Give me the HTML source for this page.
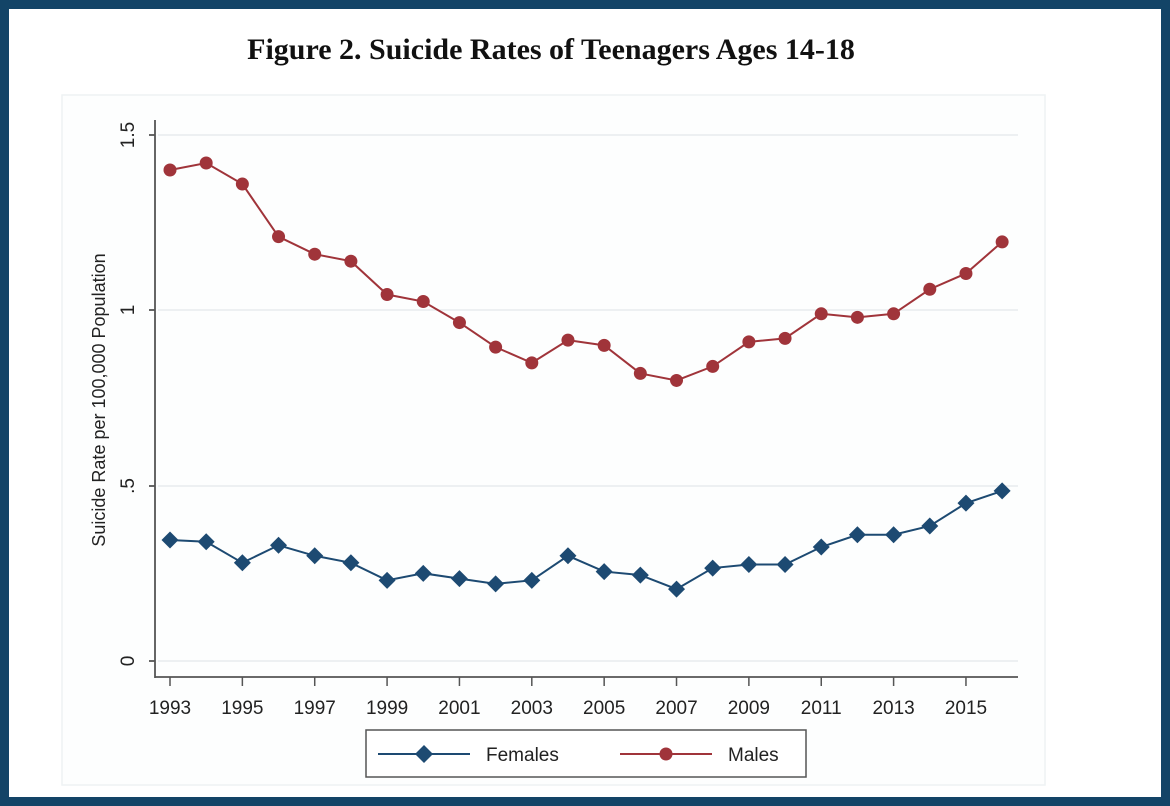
<!DOCTYPE html>
<html><head><style>
html,body{margin:0;padding:0;width:1170px;height:806px;overflow:hidden;background:#134467}
</style></head><body>
<svg width="1170" height="806" xmlns="http://www.w3.org/2000/svg" style="position:absolute;left:0;top:0">
<rect x="9" y="9" width="1152" height="788" fill="#fff"/>
<rect x="62" y="95" width="983" height="690" fill="#fdfefe" stroke="#eef2f4" stroke-width="1.5"/>
<text x="551" y="59" text-anchor="middle" font-family="Liberation Serif, serif" font-weight="bold" font-size="30" fill="#111">Figure 2. Suicide Rates of Teenagers Ages 14-18</text>
<g stroke="#e8ecee" stroke-width="1.5">
<line x1="158" y1="135" x2="1018" y2="135"/><line x1="158" y1="310" x2="1018" y2="310"/>
<line x1="158" y1="486" x2="1018" y2="486"/><line x1="158" y1="661" x2="1018" y2="661"/>
</g>
<g stroke="#555" stroke-width="1.8" fill="none">
<line x1="155" y1="120" x2="155" y2="678"/><line x1="155" y1="677" x2="1018" y2="677"/>
<line x1="149" y1="135" x2="155" y2="135"/><line x1="149" y1="310" x2="155" y2="310"/><line x1="149" y1="486" x2="155" y2="486"/><line x1="149" y1="661" x2="155" y2="661"/>
</g>
<g stroke="#555" stroke-width="1.5" id="xt"></g>
<g font-family="Liberation Sans, sans-serif" font-size="19" fill="#222">
<text transform="translate(134,135) rotate(-90)" text-anchor="middle">1.5</text>
<text transform="translate(134,310) rotate(-90)" text-anchor="middle">1</text>
<text transform="translate(134,486) rotate(-90)" text-anchor="middle">.5</text>
<text transform="translate(134,661) rotate(-90)" text-anchor="middle">0</text>
<text transform="translate(105,400) rotate(-90)" text-anchor="middle" font-size="18">Suicide Rate per 100,000 Population</text>
</g>
<g font-family="Liberation Sans, sans-serif" font-size="19" fill="#222" text-anchor="middle" id="xl"></g>
<polyline id="m" fill="none" stroke="#a0343a" stroke-width="2"/>
<polyline id="f" fill="none" stroke="#1d4a72" stroke-width="2"/>
<g id="mm" fill="#a0343a"></g><g id="ff" fill="#1d4a72"></g>
<rect x="366" y="730" width="440" height="47" fill="#fff" stroke="#555" stroke-width="1.5"/>
<line x1="378" y1="754" x2="470" y2="754" stroke="#1d4a72" stroke-width="2"/>
<polygon points="424,745 433,754 424,763 415,754" fill="#1d4a72"/>
<text x="486" y="761" font-family="Liberation Sans, sans-serif" font-size="19" fill="#222">Females</text>
<line x1="620" y1="754" x2="712" y2="754" stroke="#a0343a" stroke-width="2"/>
<circle cx="666" cy="754" r="6.5" fill="#a0343a"/>
<text x="728" y="761" font-family="Liberation Sans, sans-serif" font-size="19" fill="#222">Males</text>
</svg>
<script>
var M=[1.40,1.42,1.36,1.21,1.16,1.14,1.045,1.025,.965,.895,.85,.915,.90,.82,.80,.84,.91,.92,.99,.98,.99,1.06,1.105,1.195];
var F=[.345,.34,.28,.33,.30,.28,.23,.25,.235,.22,.23,.30,.255,.245,.205,.265,.275,.275,.325,.36,.36,.385,.45,.485];
var ns="http://www.w3.org/2000/svg";
function X(i){return 170+i*36.18}function Y(v){return 661-v*350.7}
var pm=[],pf=[];
for(var i=0;i<24;i++){pm.push(X(i)+","+Y(M[i]));pf.push(X(i)+","+Y(F[i]));
var c=document.createElementNS(ns,"circle");c.setAttribute("cx",X(i));c.setAttribute("cy",Y(M[i]));c.setAttribute("r",6.5);document.getElementById("mm").appendChild(c);
var p=document.createElementNS(ns,"polygon");var x=X(i),y=Y(F[i]);p.setAttribute("points",x+","+(y-8.5)+" "+(x+8.5)+","+y+" "+x+","+(y+8.5)+" "+(x-8.5)+","+y);document.getElementById("ff").appendChild(p);}
document.getElementById("m").setAttribute("points",pm.join(" "));
document.getElementById("f").setAttribute("points",pf.join(" "));
for(var i=0;i<24;i+=2){var l=document.createElementNS(ns,"line");l.setAttribute("x1",X(i));l.setAttribute("x2",X(i));l.setAttribute("y1",677);l.setAttribute("y2",686);document.getElementById("xt").appendChild(l);
var t=document.createElementNS(ns,"text");t.setAttribute("x",X(i));t.setAttribute("y",714);t.textContent=1993+i;document.getElementById("xl").appendChild(t);}
</script>
</body></html>
